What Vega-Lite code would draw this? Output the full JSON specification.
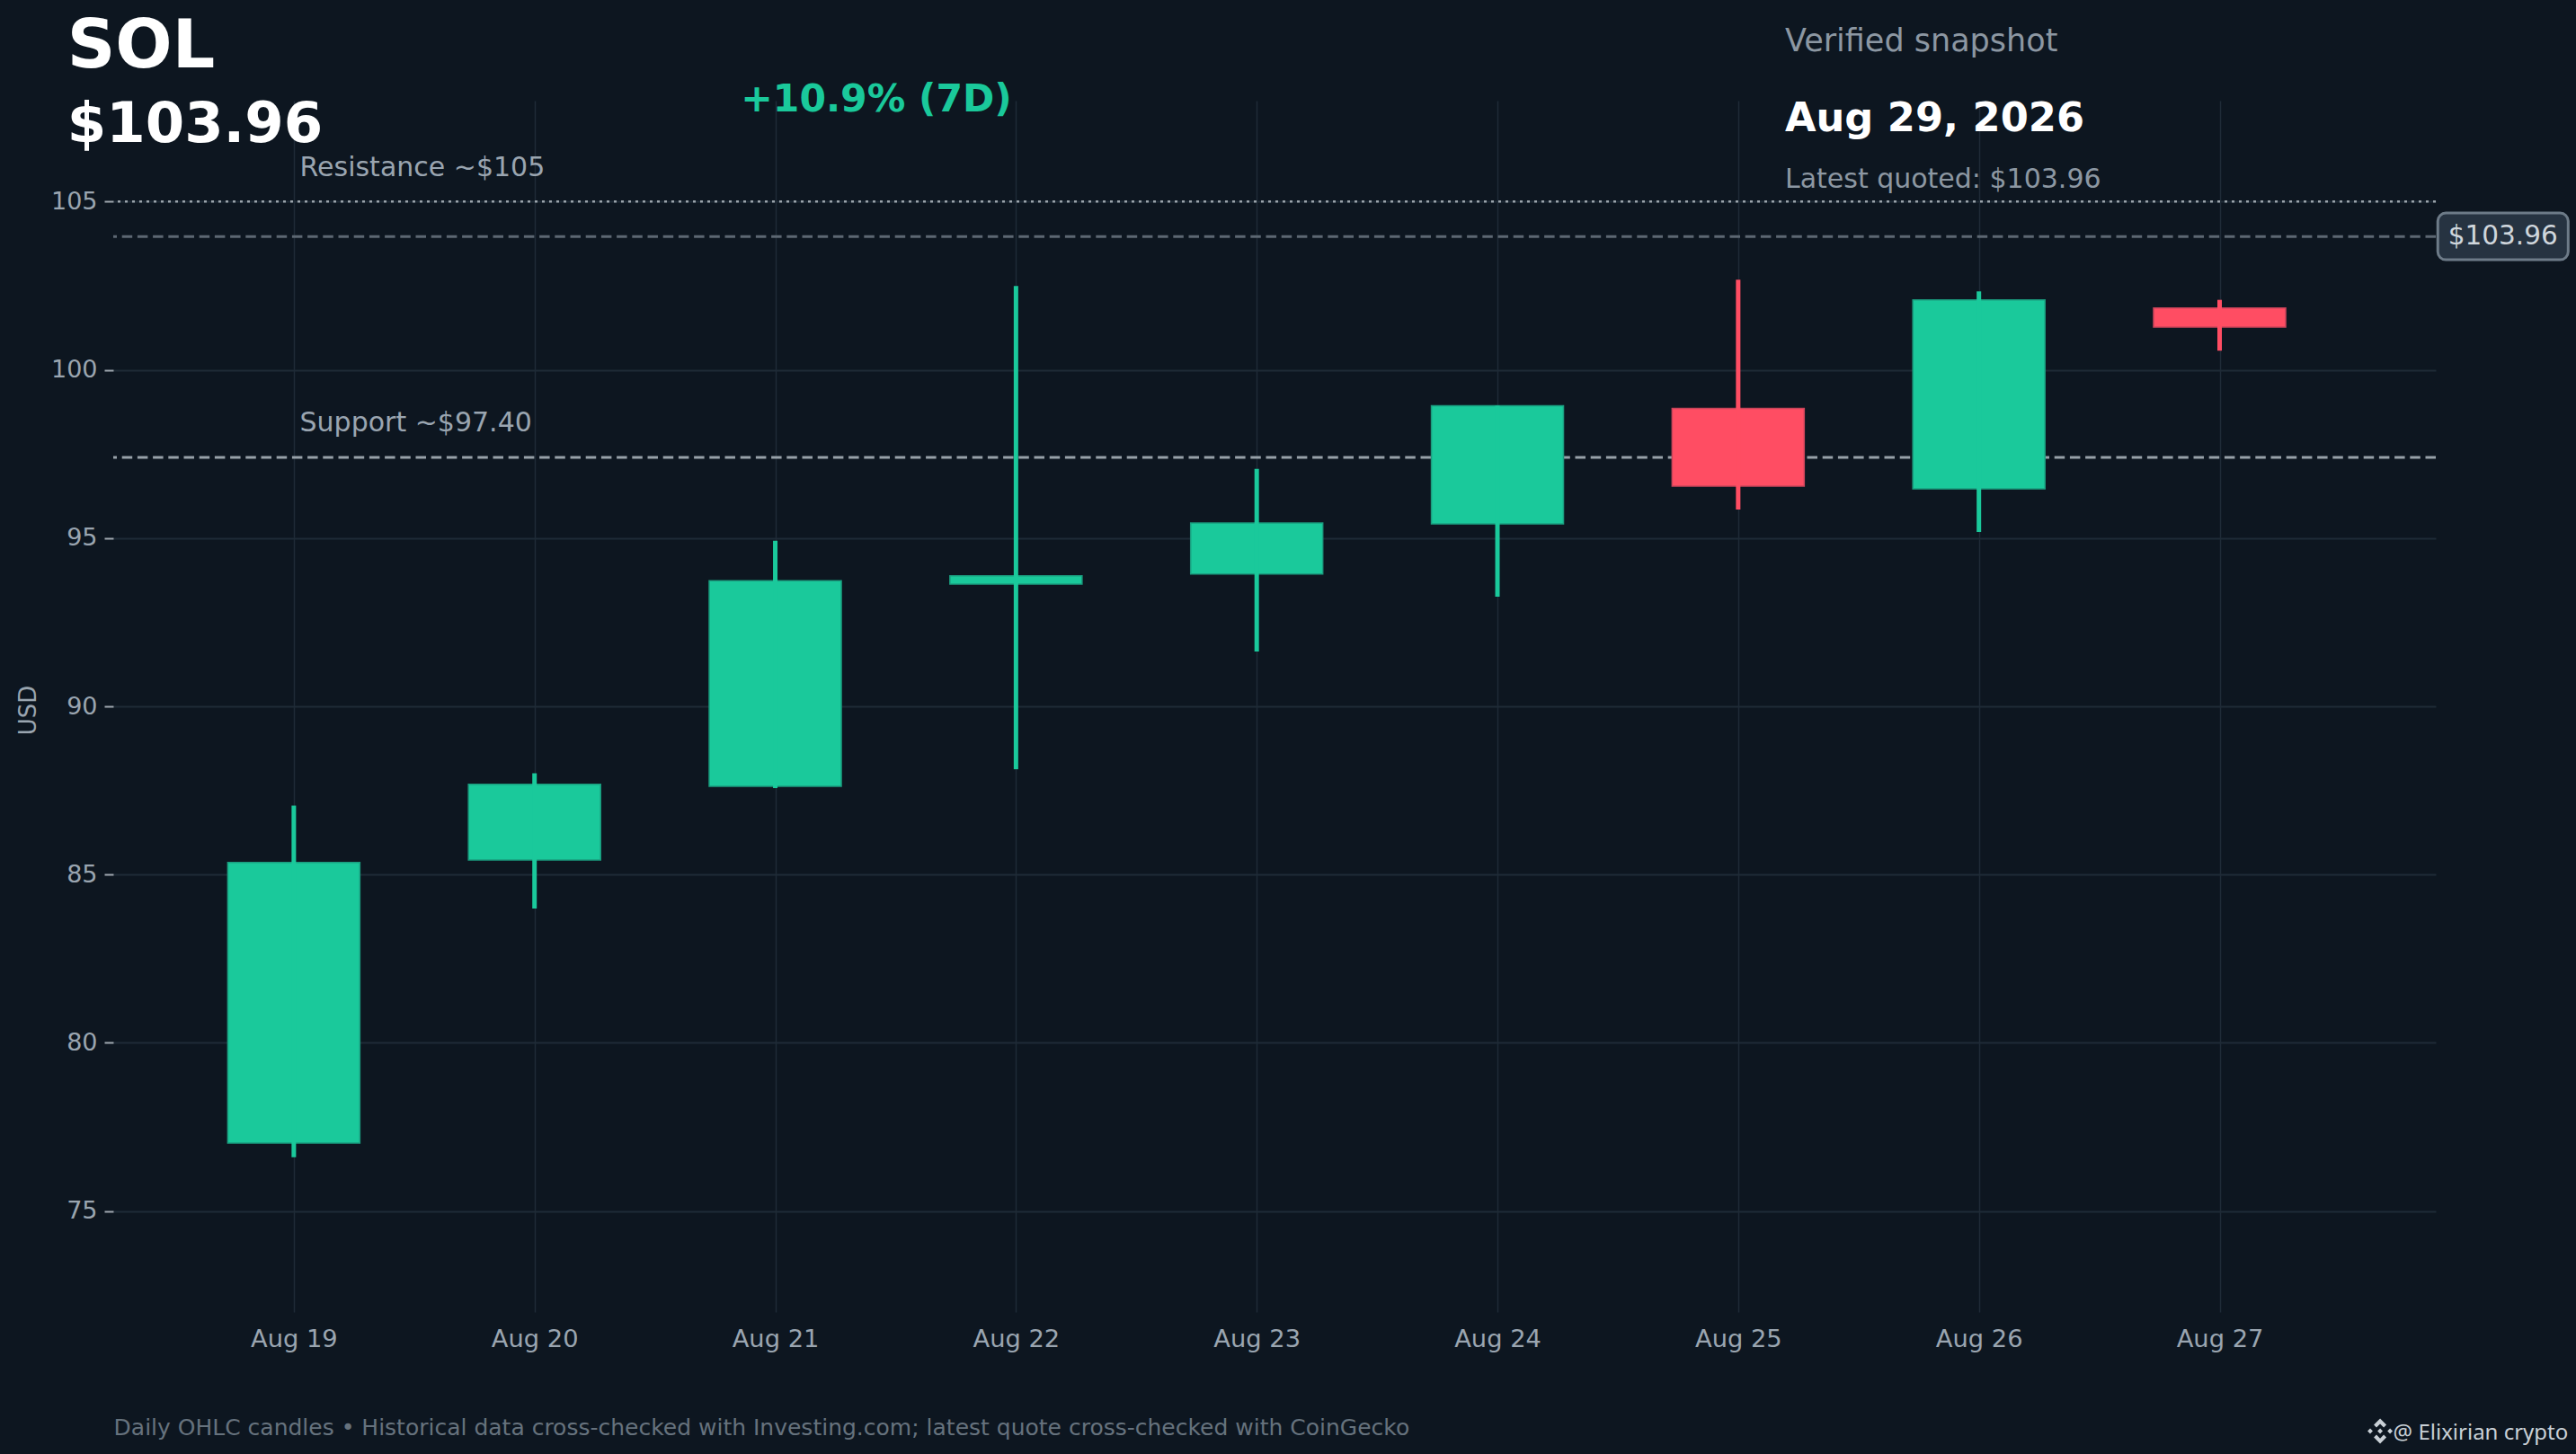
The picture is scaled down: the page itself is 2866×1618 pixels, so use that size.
{
  "$schema": "https://vega.github.io/schema/vega-lite/v6.json",
  "width": 2584,
  "height": 1348,
  "autosize": { "type": "none" },
  "padding": { "left": 126, "top": 112, "right": 156, "bottom": 158 },
  "background": "#0d1620",
  "config": {
    "font": "DejaVu Sans",
    "view": { "stroke": null },
    "text": { "font": "DejaVu Sans", "align": "left", "baseline": "alphabetic" }
  },
  "datasets": {
    "candles": [
      { "date": "2026-08-19T00:00:00Z", "open": 77.02, "high": 87.05, "low": 76.6, "close": 85.36 },
      { "date": "2026-08-20T00:00:00Z", "open": 85.43, "high": 88.01, "low": 83.99, "close": 87.68 },
      { "date": "2026-08-21T00:00:00Z", "open": 87.62, "high": 94.92, "low": 87.57, "close": 93.73 },
      { "date": "2026-08-22T00:00:00Z", "open": 93.63, "high": 102.49, "low": 88.13, "close": 93.88 },
      { "date": "2026-08-23T00:00:00Z", "open": 93.93, "high": 97.06, "low": 91.63, "close": 95.45 },
      { "date": "2026-08-24T00:00:00Z", "open": 95.42, "high": 98.93, "low": 93.26, "close": 98.93 },
      { "date": "2026-08-25T00:00:00Z", "open": 98.85, "high": 102.68, "low": 95.85, "close": 96.54 },
      { "date": "2026-08-26T00:00:00Z", "open": 96.46, "high": 102.33, "low": 95.18, "close": 102.08 },
      { "date": "2026-08-27T00:00:00Z", "open": 101.84, "high": 102.08, "low": 100.57, "close": 101.27 }
    ]
  },
  "layer": [
    {
      "data": { "values": [{ "level": "Resistance", "price": 105 }] },
      "mark": { "type": "rule", "stroke": "#9aa3ab", "strokeWidth": 2.5, "strokeDash": [3, 5] },
      "encoding": { "y": { "field": "price", "type": "quantitative" } }
    },
    {
      "data": { "values": [{ "level": "Latest", "price": 103.96 }] },
      "mark": { "type": "rule", "stroke": "#5c6772", "strokeWidth": 3, "strokeDash": [11.5, 5.7] },
      "encoding": { "y": { "field": "price", "type": "quantitative" } }
    },
    {
      "data": { "values": [{ "level": "Support", "price": 97.4 }] },
      "mark": { "type": "rule", "stroke": "#98a1a9", "strokeWidth": 3, "strokeDash": [11.5, 5.7] },
      "encoding": { "y": { "field": "price", "type": "quantitative" } }
    },
    {
      "data": { "name": "candles" },
      "mark": { "type": "bar", "size": 147, "strokeWidth": 1.5 },
      "encoding": {
        "x": {
          "field": "date",
          "type": "temporal",
          "scale": { "type": "utc", "padding": 0, "nice": false, "domain": [{ "year": 2026, "month": 8, "date": 18, "hours": 6, "utc": true }, { "year": 2026, "month": 8, "date": 27, "hours": 21, "minutes": 33, "utc": true }] },
          "axis": {
            "title": null,
            "format": "%b %d",
            "tickCount": { "interval": "day", "step": 1 },
            "grid": true,
            "gridColor": "#1f2b37",
            "gridWidth": 1.5,
            "domain": false,
            "ticks": false,
            "labelColor": "#9aa5b0",
            "labelFontSize": 27.3,
            "labelPadding": 16,
            "labelFlush": false
          }
        },
        "y": {
          "field": "open",
          "type": "quantitative",
          "scale": { "domain": [72, 108], "nice": false, "zero": false },
          "axis": {
            "title": "USD",
            "titleColor": "#9aa5b0",
            "titleFontSize": 26,
            "titleFontWeight": "normal",
            "titleX": -82,
            "titleY": 678,
            "values": [75, 80, 85, 90, 95, 100, 105],
            "grid": true,
            "gridColor": "#1f2b37",
            "gridWidth": 2,
            "domain": false,
            "tickColor": "#a0a8b0",
            "tickSize": 10,
            "tickWidth": 2,
            "labelColor": "#9aa5b0",
            "labelFontSize": 27,
            "labelPadding": 8
          }
        },
        "y2": { "field": "close" },
        "color": {
          "condition": { "test": "datum.close >= datum.open", "value": "#1ac99b" },
          "value": "#ff4d63"
        },
        "stroke": {
          "condition": { "test": "datum.close >= datum.open", "value": "#1a9d7f" },
          "value": "#c9445a"
        }
      }
    },
    {
      "data": { "name": "candles" },
      "mark": { "type": "rule", "strokeWidth": 5 },
      "encoding": {
        "x": { "field": "date", "type": "temporal" },
        "y": { "field": "low", "type": "quantitative" },
        "y2": { "field": "high" },
        "color": {
          "condition": { "test": "datum.close >= datum.open", "value": "#1ac99b" },
          "value": "#ff4d63"
        }
      }
    },
    {
      "data": { "values": [{ "label": "SOL" }] },
      "mark": { "type": "text", "fontSize": 74.5, "fontWeight": "bold", "color": "#ffffff" },
      "encoding": {
        "x": { "datum": { "year": 2026, "month": 8, "date": 18, "hours": 1, "minutes": 24, "utc": true }, "type": "temporal" },
        "y": { "datum": 108.98, "type": "quantitative" },
        "text": { "field": "label" }
      }
    },
    {
      "data": { "values": [{ "label": "$103.96" }] },
      "mark": { "type": "text", "fontSize": 62.5, "fontWeight": "bold", "color": "#ffffff" },
      "encoding": {
        "x": { "datum": { "year": 2026, "month": 8, "date": 18, "hours": 1, "minutes": 24, "utc": true }, "type": "temporal" },
        "y": { "datum": 106.76, "type": "quantitative" },
        "text": { "field": "label" }
      }
    },
    {
      "data": { "values": [{ "label": "+10.9% (7D)" }] },
      "mark": { "type": "text", "fontSize": 42.5, "fontWeight": "bold", "color": "#1ac99b" },
      "encoding": {
        "x": { "datum": { "year": 2026, "month": 8, "date": 20, "hours": 20, "minutes": 34, "utc": true }, "type": "temporal" },
        "y": { "datum": 107.67, "type": "quantitative" },
        "text": { "field": "label" }
      }
    },
    {
      "data": { "values": [{ "label": "Resistance ~$105" }] },
      "mark": { "type": "text", "fontSize": 30, "color": "#9aa5b0" },
      "encoding": {
        "x": { "datum": { "year": 2026, "month": 8, "date": 19, "hours": 0, "minutes": 36, "utc": true }, "type": "temporal" },
        "y": { "datum": 105.77, "type": "quantitative" },
        "text": { "field": "label" }
      }
    },
    {
      "data": { "values": [{ "label": "Support ~$97.40" }] },
      "mark": { "type": "text", "fontSize": 30, "color": "#9aa5b0" },
      "encoding": {
        "x": { "datum": { "year": 2026, "month": 8, "date": 19, "hours": 0, "minutes": 36, "utc": true }, "type": "temporal" },
        "y": { "datum": 98.16, "type": "quantitative" },
        "text": { "field": "label" }
      }
    },
    {
      "data": { "values": [{ "label": "Verified snapshot" }] },
      "mark": { "type": "text", "fontSize": 35, "color": "#8c97a2" },
      "encoding": {
        "x": { "datum": { "year": 2026, "month": 8, "date": 25, "hours": 4, "minutes": 40, "utc": true }, "type": "temporal" },
        "y": { "datum": 109.46, "type": "quantitative" },
        "text": { "field": "label" }
      }
    },
    {
      "data": { "values": [{ "label": "Aug 29, 2026" }] },
      "mark": { "type": "text", "fontSize": 44.7, "fontWeight": "bold", "color": "#ffffff" },
      "encoding": {
        "x": { "datum": { "year": 2026, "month": 8, "date": 25, "hours": 4, "minutes": 40, "utc": true }, "type": "temporal" },
        "y": { "datum": 107.08, "type": "quantitative" },
        "text": { "field": "label" }
      }
    },
    {
      "data": { "values": [{ "label": "Latest quoted: $103.96" }] },
      "mark": { "type": "text", "fontSize": 30, "color": "#8c97a2" },
      "encoding": {
        "x": { "datum": { "year": 2026, "month": 8, "date": 25, "hours": 4, "minutes": 40, "utc": true }, "type": "temporal" },
        "y": { "datum": 105.4, "type": "quantitative" },
        "text": { "field": "label" }
      }
    },
    {
      "data": { "values": [{ "label": "$103.96" }] },
      "mark": { "type": "rect", "fill": "#263341", "stroke": "#6d7b88", "strokeWidth": 3, "cornerRadius": 9 },
      "encoding": {
        "x": { "datum": { "year": 2026, "month": 8, "date": 27, "hours": 21, "minutes": 45, "utc": true }, "type": "temporal" },
        "x2": { "datum": { "year": 2026, "month": 8, "date": 28, "hours": 10, "minutes": 45, "utc": true } },
        "y": { "datum": 104.66, "type": "quantitative" },
        "y2": { "datum": 103.27 }
      }
    },
    {
      "data": { "values": [{ "label": "$103.96" }] },
      "mark": { "type": "text", "fontSize": 29.5, "color": "#cfd6dc", "align": "center", "baseline": "middle" },
      "encoding": {
        "x": { "datum": { "year": 2026, "month": 8, "date": 28, "hours": 4, "minutes": 15, "utc": true }, "type": "temporal" },
        "y": { "datum": 103.96, "type": "quantitative" },
        "text": { "field": "label" }
      }
    },
    {
      "data": { "values": [{ "label": "Daily OHLC candles • Historical data cross-checked with Investing.com; latest quote cross-checked with CoinGecko" }] },
      "mark": { "type": "text", "fontSize": 25, "color": "#66727d" },
      "encoding": {
        "x": { "datum": { "year": 2026, "month": 8, "date": 18, "hours": 6, "minutes": 3, "utc": true }, "type": "temporal" },
        "y": { "datum": 68.35, "type": "quantitative" },
        "text": { "field": "label" }
      }
    },
    {
      "data": { "values": [{ "label": "@ Elixirian crypto" }] },
      "mark": { "type": "text", "font": "Noto Sans", "fontSize": 24, "color": "#c9d0d6", "align": "right" },
      "encoding": {
        "x": { "datum": { "year": 2026, "month": 8, "date": 28, "hours": 10, "minutes": 45, "utc": true }, "type": "temporal" },
        "y": { "datum": 68.22, "type": "quantitative" },
        "text": { "field": "label" }
      }
    },
    {
      "data": { "values": [{ "label": "logo" }] },
      "mark": {
        "type": "point",
        "filled": true,
        "opacity": 1,
        "size": 784,
        "color": "#c9d0d6",
        "shape": "M0,-1L0.5,-0.5L0.29,-0.29L0,-0.58L-0.29,-0.29L-0.5,-0.5ZM0,1L0.5,0.5L0.29,0.29L0,0.58L-0.29,0.29L-0.5,0.5ZM-1,0L-0.79,-0.21L-0.58,0L-0.79,0.21ZM1,0L0.79,-0.21L0.58,0L0.79,0.21ZM0,-0.21L0.21,0L0,0.21L-0.21,0Z"
      },
      "encoding": {
        "x": { "datum": { "year": 2026, "month": 8, "date": 27, "hours": 16, "minutes": 0, "utc": true }, "type": "temporal" },
        "y": { "datum": 68.46, "type": "quantitative" }
      }
    }
  ]
}
